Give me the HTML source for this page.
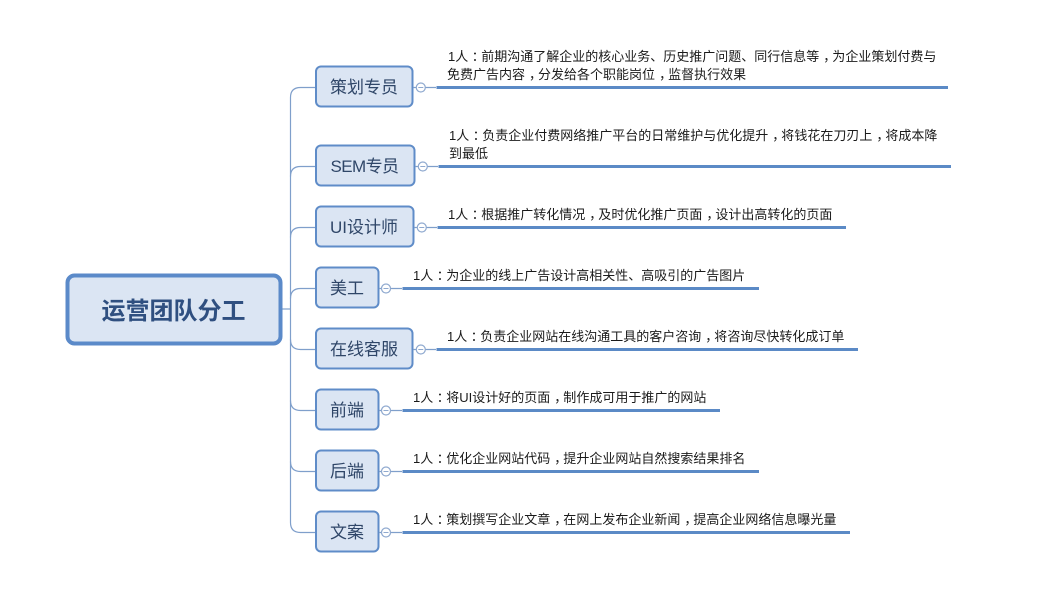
<!DOCTYPE html>
<html><head><meta charset="utf-8"><style>
html,body{margin:0;padding:0;background:#fff;width:1052px;height:591px;overflow:hidden}
svg{display:block}
text{font-family:"Liberation Sans","Noto Sans CJK SC",sans-serif}
.n{fill:#dbe5f3;stroke:#5f8cc8;stroke-width:2}
.t{font-size:17px;fill:#2f4668}
.d{font-size:13px;fill:#1a1a1a}
.c{fill:none;stroke:#7f9fcb;stroke-width:1.2}
.u{stroke:#5b8ac6;stroke-width:3}
.o{fill:#fff;stroke:#8fa9cf;stroke-width:1.2}
.m{stroke:#8fa9cf;stroke-width:1}
.l{stroke:#7f9fcb;stroke-width:1.2}
</style></head><body>
<svg width="1052" height="591" viewBox="0 0 1052 591" xmlns="http://www.w3.org/2000/svg">
<rect width="1052" height="591" fill="#fff"/>
<!-- trunk connectors -->
<path class="c" d="M282 309H290.500"/>
<path class="c" d="M316 87.500H300.500Q290.500 87.500 290.500 97.500V522.500Q290.500 532.500 300.500 532.500H316"/>
<path class="c" d="M316 166.500H300.500Q290.500 166.500 290.500 176.500"/>
<path class="c" d="M316 227.500H300.500Q290.500 227.500 290.500 237.500"/>
<path class="c" d="M316 288.500H300.500Q290.500 288.500 290.500 298.500"/>
<path class="c" d="M316 349.500H300.500Q290.500 349.500 290.500 339.500"/>
<path class="c" d="M316 410.500H300.500Q290.500 410.500 290.500 400.500"/>
<path class="c" d="M316 471.500H300.500Q290.500 471.500 290.500 461.500"/>
<!-- root -->
<rect x="67.500" y="275.500" width="213" height="68" rx="7" fill="#dbe5f3" stroke="#5b8ac9" stroke-width="4"/>
<text x="101.500" y="319" font-size="24" font-weight="700" fill="#2f4f80">运营团队分工</text>
<!-- nodes -->
<rect class="n" x="316" y="66.500" width="96.500" height="40" rx="5"/>
<text class="t" x="330" y="93">策划专员</text>
<rect class="n" x="316" y="145.500" width="98.500" height="40" rx="5"/>
<text class="t" x="330.500" y="172" textLength="68.500" lengthAdjust="spacing">SEM专员</text>
<rect class="n" x="316" y="206.500" width="97.500" height="40" rx="5"/>
<text class="t" x="330" y="233">UI设计师</text>
<rect class="n" x="316" y="267.500" width="62.500" height="40" rx="5"/>
<text class="t" x="330" y="294">美工</text>
<rect class="n" x="316" y="328.500" width="96.500" height="40" rx="5"/>
<text class="t" x="330" y="355">在线客服</text>
<rect class="n" x="316" y="389.500" width="62.500" height="40" rx="5"/>
<text class="t" x="330" y="416">前端</text>
<rect class="n" x="316" y="450.500" width="62.500" height="40" rx="5"/>
<text class="t" x="330" y="477">后端</text>
<rect class="n" x="316" y="511.500" width="62.500" height="40" rx="5"/>
<text class="t" x="330" y="538">文案</text>
<!-- stubs, collapse circles, underlines -->
<path class="l" d="M413 87.500H436M415 166.500H438M414 227.500H437M379 288.500H402M413 349.500H436M379 410.500H402M379 471.500H402M379 532.500H402"/>
<path class="u" d="M436.500 87.500H948M438.500 166.500H951M437.500 227.500H846M402.500 288.500H759M436.500 349.500H858M402.500 410.500H720M402.500 471.500H759M402.500 532.500H850"/>
<circle class="o" cx="420.800" cy="87.500" r="4.500"/><path class="m" d="M418.300 87.500h5"/>
<circle class="o" cx="422.800" cy="166.500" r="4.500"/><path class="m" d="M420.300 166.500h5"/>
<circle class="o" cx="421.800" cy="227.500" r="4.500"/><path class="m" d="M419.300 227.500h5"/>
<circle class="o" cx="386" cy="288.500" r="4.500"/><path class="m" d="M383.500 288.500h5"/>
<circle class="o" cx="420.800" cy="349.500" r="4.500"/><path class="m" d="M418.300 349.500h5"/>
<circle class="o" cx="386" cy="410.500" r="4.500"/><path class="m" d="M383.500 410.500h5"/>
<circle class="o" cx="386" cy="471.500" r="4.500"/><path class="m" d="M383.500 471.500h5"/>
<circle class="o" cx="386" cy="532.500" r="4.500"/><path class="m" d="M383.500 532.500h5"/>
<!-- descriptions -->
<text class="d" x="448" y="61">1人<tspan dx="3.500">：</tspan><tspan dx="-3.500">前</tspan>期沟通了解企业的核心业务、历史推广问题、同行信息等<tspan dx="4">，</tspan><tspan dx="-4">为</tspan>企业策划付费与</text>
<text class="d" x="447" y="79">免费广告内容<tspan dx="4">，</tspan><tspan dx="-4">分</tspan>发给各个职能岗位<tspan dx="4">，</tspan><tspan dx="-4">监</tspan>督执行效果</text>
<text class="d" x="449" y="140">1人<tspan dx="3.500">：</tspan><tspan dx="-3.500">负</tspan>责企业付费网络推广平台的日常维护与优化提升<tspan dx="4">，</tspan><tspan dx="-4">将</tspan>钱花在刀刃上<tspan dx="4">，</tspan><tspan dx="-4">将</tspan>成本降</text>
<text class="d" x="449" y="158">到最低</text>
<text class="d" x="448" y="219">1人<tspan dx="3.500">：</tspan><tspan dx="-3.500">根</tspan>据推广转化情况<tspan dx="4">，</tspan><tspan dx="-4">及</tspan>时优化推广页面<tspan dx="4">，</tspan><tspan dx="-4">设</tspan>计出高转化的页面</text>
<text class="d" x="413" y="280">1人<tspan dx="3.500">：</tspan><tspan dx="-3.500">为</tspan>企业的线上广告设计高相关性、高吸引的广告图片</text>
<text class="d" x="447" y="341">1人<tspan dx="3.500">：</tspan><tspan dx="-3.500">负</tspan>责企业网站在线沟通工具的客户咨询<tspan dx="4">，</tspan><tspan dx="-4">将</tspan>咨询尽快转化成订单</text>
<text class="d" x="413" y="402">1人<tspan dx="3.500">：</tspan><tspan dx="-3.500">将</tspan>UI设计好的页面<tspan dx="4">，</tspan><tspan dx="-4">制</tspan>作成可用于推广的网站</text>
<text class="d" x="413" y="463">1人<tspan dx="3.500">：</tspan><tspan dx="-3.500">优</tspan>化企业网站代码<tspan dx="4">，</tspan><tspan dx="-4">提</tspan>升企业网站自然搜索结果排名</text>
<text class="d" x="413" y="524">1人<tspan dx="3.500">：</tspan><tspan dx="-3.500">策</tspan>划撰写企业文章<tspan dx="4">，</tspan><tspan dx="-4">在</tspan>网上发布企业新闻<tspan dx="4">，</tspan><tspan dx="-4">提</tspan>高企业网络信息曝光量</text>
</svg>
</body></html>
